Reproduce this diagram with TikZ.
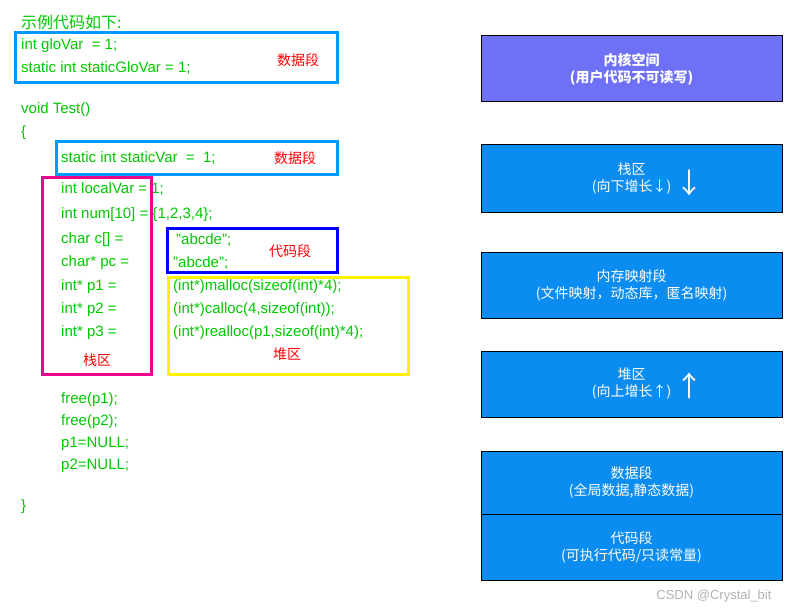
\documentclass[tikz,border=0pt]{standalone}
\usepackage{fontspec}
\setmainfont{Liberation Sans}
\newfontfamily\cjk{Noto Sans CJK SC}
\definecolor{codegreen}{RGB}{0,200,0}
\definecolor{datablue}{RGB}{0,153,255}
\definecolor{kernelcol}{RGB}{110,112,245}
\definecolor{segcol}{RGB}{10,140,240}
\tikzset{
    code/.style={anchor=west, text=codegreen, font=\fontsize{15}{17}\selectfont, inner sep=0pt},
    tag/.style={text=red, font=\cjk\fontsize{14}{16}\selectfont, inner sep=0pt},
    frame/.style={draw=#1, line width=3pt},
    seg/.style={draw=black, fill=segcol, line width=1pt, text=white, align=center,
        font=\cjk\fontsize{14}{17}\selectfont}
}
\begin{document}
\begin{tikzpicture}[x=1pt, y=-1pt]
    \useasboundingbox (0,0) rectangle (790,615);
    % code on the left
    \node[code, font=\cjk\fontsize{16}{18}\selectfont] (title) at (21,22) {示例代码如下:};
    \node[code] (gvar) at (21,46) {int gloVar\ \ = 1;};
    \node[code] (sgvar) at (21,68) {static int staticGloVar = 1;};
    \node[code] (func) at (21,110) {void Test()};
    \node[code] (open) at (21,133) {\{};
    \node[code] (svar) at (61,158) {static int staticVar\ \ =\ \ 1;};
    \node[code] (lvar) at (61,189) {int localVar = 1;};
    \node[code] (num) at (61,215) {int num[10] = \{1,2,3,4\};};
    \node[code] (c) at (61,240) {char c[] =};
    \node[code] (pc) at (61,263) {char* pc =};
    \node[code] (p1) at (61,287) {int* p1 =};
    \node[code] (p2) at (61,310) {int* p2 =};
    \node[code] (p3) at (61,333) {int* p3 =};
    \node[code] (cstr) at (176,240) {"abcde";};
    \node[code] (pcstr) at (173,263) {"abcde";};
    \node[code] (mal) at (173,287) {(int*)malloc(sizeof(int)*4);};
    \node[code] (cal) at (173,310) {(int*)calloc(4,sizeof(int));};
    \node[code] (real) at (173,333) {(int*)realloc(p1,sizeof(int)*4);};
    \node[code] (f1) at (61,400) {free(p1);};
    \node[code] (f2) at (61,422) {free(p2);};
    \node[code] (n1) at (61,444) {p1=NULL;};
    \node[code] (n2) at (61,466) {p2=NULL;};
    \node[code] (close) at (21,507) {\}};
    % frames
    \draw[frame=datablue] (15,33) rectangle (337,83);
    \draw[frame=datablue] (56,142) rectangle (337,175);
    \draw[frame=magenta] (42,178) rectangle (151,374);
    \draw[frame=blue] (167,228) rectangle (337,272);
    \draw[frame=yellow] (168,277) rectangle (408,374);
    \node[tag] (t1) at (298,60) {数据段};
    \node[tag] (t2) at (295,158) {数据段};
    \node[tag] (t3) at (290,251) {代码段};
    \node[tag] (t4) at (97,360) {栈区};
    \node[tag] (t5) at (287,354) {堆区};
    % memory layout
    \node[seg, fill=kernelcol, minimum width=301pt, minimum height=66pt, font=\cjk\bfseries\fontsize{14}{17}\selectfont] (kernel) at (631.5,69) {内核空间\\(用户代码不可读写)};
    \node[seg, minimum width=301pt, minimum height=67pt] (stack) at (631.5,178.5) {栈区\\(向下增长↓)};
    \node[text=white, font=\cjk\fontsize{28}{28}\selectfont] (sarr) at (689,183) {↓};
    \node[seg, minimum width=301pt, minimum height=66pt] (mmap) at (631.5,285) {内存映射段\\(文件映射，动态库，匿名映射)};
    \node[seg, minimum width=301pt, minimum height=66pt] (heap) at (631.5,384) {堆区\\(向上增长↑)};
    \node[text=white, font=\cjk\fontsize{28}{28}\selectfont] (harr) at (689,386) {↑};
    \node[seg, minimum width=301pt, minimum height=63pt] (data) at (631.5,482.5) {数据段\\(全局数据,静态数据)};
    \node[seg, minimum width=301pt, minimum height=66pt] (text) at (631.5,547) {代码段\\(可执行代码/只读常量)};
    \node[text=gray!60, font=\fontsize{13}{15}\selectfont, anchor=east] (mark) at (775,596) {CSDN @Crystal\_bit};
\end{tikzpicture}
\end{document}
